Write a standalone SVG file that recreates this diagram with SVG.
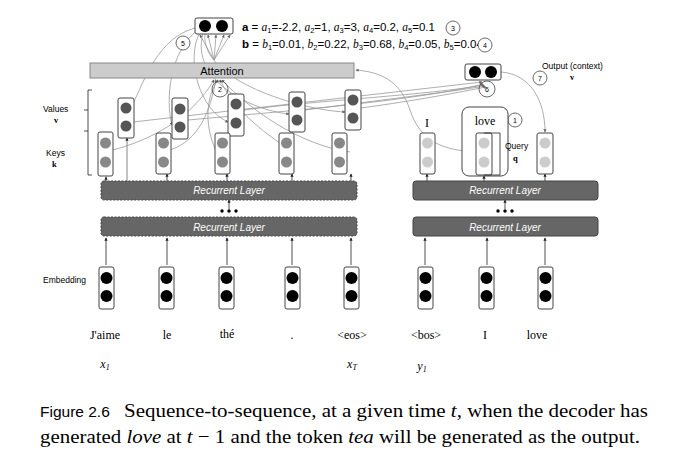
<svg xmlns="http://www.w3.org/2000/svg" width="691" height="453" viewBox="0 0 691 453">
<defs>
<marker id="ar" viewBox="0 0 6 6" refX="5" refY="3" markerWidth="4" markerHeight="4" orient="auto"><path d="M0,0L6,3L0,6z" fill="#666"/></marker>
<marker id="ak" viewBox="0 0 6 6" refX="5" refY="3" markerWidth="4" markerHeight="4" orient="auto"><path d="M0,0L6,3L0,6z" fill="#222"/></marker>
</defs>
<style>
.s{font-family:"Liberation Sans",Arial,sans-serif}
.r{font-family:"Liberation Serif","Times New Roman",serif}
.box{fill:#fff;stroke:#444;stroke-width:1}
.rl{fill:#666;stroke:#444}
.dash{stroke-dasharray:2,1.5}
.rlt{fill:#fff;font-style:italic;font-size:10px;text-anchor:middle}
.cir{fill:#fff;stroke:#444;stroke-width:0.8}
.cn{font-size:7px;text-anchor:middle}
.c{fill:none;stroke:#999;stroke-width:0.8}
.k{stroke:#222;stroke-width:0.8;fill:none}
.lbl{font-size:8.5px}
</style>
<rect width="691" height="453" fill="#fff"/>

<g id="connectors">
<g class="k" marker-end="url(#ak)">
<path d="M106,265V238"/><path d="M167,265V238"/><path d="M227,265V238"/><path d="M292,265V238"/><path d="M351,265V238"/>
<path d="M425,265V238"/><path d="M487,265V238"/><path d="M545,265V238"/>
<path d="M229,209V200"/><path d="M505,209V200"/>
<path d="M106,181V177"/><path d="M167,181V174"/><path d="M227,181V174"/><path d="M292,181V174"/><path d="M351,181V174"/>
<path d="M427,181V174"/><path d="M484,181V176"/><path d="M545,181V174"/>
<path d="M127,181V138" stroke="#666"/>
</g>
<g class="c" marker-end="url(#ar)">
<path d="M113,150C150,140 190,120 214,80"/>
<path d="M170,150C200,140 210,110 216,80"/>
<path d="M218,155C200,120 210,90 218,80"/>
<path d="M290,150C260,130 235,110 220,80"/>
<path d="M350,152C300,145 250,110 222,80"/>
<path d="M214,60L200,35"/><path d="M214,60L208,35"/><path d="M214,60L216,35"/><path d="M214,60L224,35"/><path d="M214,60L230,35"/>
<path d="M195,28C150,40 140,100 127,112"/>
<path d="M198,30C170,50 165,100 172,125"/>
<path d="M200,32C185,60 200,110 228,122"/>
<path d="M203,33C190,80 250,110 289,114"/>
<path d="M205,34C200,80 300,110 345,112"/>
<path d="M133,122L482,82"/>
<path d="M188,120C300,110 420,100 483,84"/>
<path d="M244,110C320,100 430,95 484,85"/>
<path d="M305,110C380,100 450,92 485,86"/>
<path d="M361,108C420,100 460,92 486,87"/>
<path d="M476,152C440,150 420,140 410,110C400,80 380,72 356,70"/>
<path d="M501,72C530,74 545,100 545,132"/>
</g>
</g>

<g id="attention">
<rect x="90" y="63" width="264" height="15" fill="#ccc" stroke="#888"/>
<text x="222" y="75" class="s" font-size="11" text-anchor="middle">Attention</text>
</g>
<g id="scores">
<rect x="195" y="18" width="38" height="16" rx="2" class="box" stroke-width="1.3"/>
<circle cx="205" cy="26" r="6"/><circle cx="222" cy="26" r="6"/>
<text x="242" y="31" class="s" font-size="11.5"><tspan font-weight="bold">a</tspan> = <tspan class="r" font-style="italic">a</tspan><tspan font-size="7.5" dy="2">1</tspan><tspan dy="-2">=-2.2, </tspan><tspan class="r" font-style="italic">a</tspan><tspan font-size="7.5" dy="2">2</tspan><tspan dy="-2">=1, </tspan><tspan class="r" font-style="italic">a</tspan><tspan font-size="7.5" dy="2">3</tspan><tspan dy="-2">=3, </tspan><tspan class="r" font-style="italic">a</tspan><tspan font-size="7.5" dy="2">4</tspan><tspan dy="-2">=0.2, </tspan><tspan class="r" font-style="italic">a</tspan><tspan font-size="7.5" dy="2">5</tspan><tspan dy="-2">=0.1</tspan></text>
<text x="242" y="48" class="s" font-size="11.5"><tspan font-weight="bold">b</tspan> = <tspan class="r" font-style="italic">b</tspan><tspan font-size="7.5" dy="2">1</tspan><tspan dy="-2">=0.01, </tspan><tspan class="r" font-style="italic">b</tspan><tspan font-size="7.5" dy="2">2</tspan><tspan dy="-2">=0.22, </tspan><tspan class="r" font-style="italic">b</tspan><tspan font-size="7.5" dy="2">3</tspan><tspan dy="-2">=0.68, </tspan><tspan class="r" font-style="italic">b</tspan><tspan font-size="7.5" dy="2">4</tspan><tspan dy="-2">=0.05, </tspan><tspan class="r" font-style="italic">b</tspan><tspan font-size="7.5" dy="2">5</tspan><tspan dy="-2">=0.04</tspan></text>
</g>
<g id="circles" class="s">
<circle cx="453" cy="28" r="7" class="cir"/><text x="453" y="30.5" class="cn">3</text>
<circle cx="485" cy="45" r="7" class="cir"/><text x="485" y="47.5" class="cn">4</text>
<circle cx="183" cy="43" r="7" class="cir"/><text x="183" y="45.5" class="cn">5</text>
<circle cx="220" cy="89" r="8" class="cir" style="fill:none"/><text x="220" y="91.5" class="cn">2</text>
<circle cx="487" cy="89" r="8" class="cir" style="fill:none"/><text x="487" y="91.5" class="cn">6</text>
<circle cx="540" cy="78" r="7" class="cir"/><text x="540" y="80.5" class="cn">7</text>
<circle cx="515" cy="120" r="7" class="cir"/><text x="515" y="122.5" class="cn">1</text>
</g>
<g id="output">
<rect x="465" y="64" width="36" height="16" rx="2" class="box" stroke-width="1.3"/>
<circle cx="475" cy="72" r="6"/><circle cx="491" cy="72" r="6"/>
<text x="542" y="69" class="s" font-size="8.5">Output (context)</text>
<text x="570" y="80" class="r" font-size="8.5" font-weight="bold">v</text>
</g>

<g id="values" fill="#555">
<rect x="118" y="98" width="16" height="40" rx="2" class="box"/><circle cx="126" cy="108" r="5.5"/><circle cx="126" cy="126" r="5.5"/>
<rect x="172" y="98" width="16" height="41" rx="2" class="box"/><circle cx="180" cy="109" r="5.5"/><circle cx="180" cy="127" r="5.5"/>
<rect x="228" y="94" width="16" height="42" rx="2" class="box"/><circle cx="236" cy="104" r="5.5"/><circle cx="236" cy="123" r="5.5"/>
<rect x="289" y="92" width="16" height="40" rx="2" class="box"/><circle cx="297" cy="102" r="5.5"/><circle cx="297" cy="120" r="5.5"/>
<rect x="345" y="90" width="16" height="40" rx="2" class="box"/><circle cx="353" cy="100" r="5.5"/><circle cx="353" cy="118" r="5.5"/>
</g>
<g id="keys" fill="#888">
<rect x="98" y="132" width="15" height="44" rx="2" class="box"/><circle cx="105.5" cy="143" r="5.5"/><circle cx="105.5" cy="162" r="5.5"/>
<rect x="156" y="133" width="15" height="41" rx="2" class="box"/><circle cx="163.5" cy="143" r="5.5"/><circle cx="163.5" cy="162" r="5.5"/>
<rect x="215" y="133" width="15" height="41" rx="2" class="box"/><circle cx="222.5" cy="143" r="5.5"/><circle cx="222.5" cy="162" r="5.5"/>
<rect x="279" y="133" width="15" height="41" rx="2" class="box"/><circle cx="286.5" cy="143" r="5.5"/><circle cx="286.5" cy="162" r="5.5"/>
<rect x="332" y="133" width="15" height="41" rx="2" class="box"/><circle cx="339.5" cy="143" r="5.5"/><circle cx="339.5" cy="162" r="5.5"/>
</g>
<g id="decoder-states" fill="#ccc">
<rect x="462" y="107" width="46" height="69" rx="7" class="box"/>
<rect x="420" y="133" width="15" height="41" rx="2" class="box"/><circle cx="427.5" cy="143" r="5.5"/><circle cx="427.5" cy="162" r="5.5"/>
<rect x="476" y="133" width="16" height="42" rx="2" class="box"/><circle cx="484" cy="143" r="5.5"/><circle cx="484" cy="162" r="5.5"/>
<rect x="537" y="133" width="16" height="41" rx="2" class="box"/><circle cx="545" cy="143" r="5.5"/><circle cx="545" cy="162" r="5.5"/>
<text x="427" y="127" class="r" font-size="12" fill="#000" text-anchor="middle">I</text>
<text x="485" y="125" class="r" font-size="12" fill="#000" text-anchor="middle">love</text>
<path d="M484,133H500V175H484" class="k"/>
<text x="505" y="149" class="s lbl" fill="#000">Query</text>
<text x="513" y="161" class="r" font-size="8.5" font-weight="bold" fill="#000">q</text>
</g>
<g id="brackets">
<path d="M92,90H88V131H84M88,131V175H92" class="k"/>
<path d="M84,110H88" class="k"/>
<text x="43" y="112" class="s lbl">Values</text>
<text x="54" y="123" class="r" font-size="8.5" font-weight="bold">v</text>
<text x="46" y="156" class="s lbl">Keys</text>
<text x="52" y="167" class="r" font-size="8.5" font-weight="bold">k</text>
<text x="43" y="283" class="s lbl">Embedding</text>
</g>

<g id="encoder-layers">
<rect x="101" y="181" width="256" height="19" rx="3" class="rl dash"/>
<text x="229" y="194" class="s rlt">Recurrent Layer</text>
<rect x="101" y="217" width="256" height="19" rx="3" class="rl dash"/>
<text x="229" y="231" class="s rlt">Recurrent Layer</text>
<circle cx="222" cy="211" r="1.7"/><circle cx="229" cy="211" r="1.7"/><circle cx="236" cy="211" r="1.7"/>
</g>
<g id="decoder-layers">
<rect x="413" y="181" width="185" height="19" rx="3" class="rl"/>
<text x="505" y="194" class="s rlt">Recurrent Layer</text>
<rect x="413" y="217" width="185" height="19" rx="3" class="rl"/>
<text x="505" y="231" class="s rlt">Recurrent Layer</text>
<circle cx="498" cy="211" r="1.7"/><circle cx="505" cy="211" r="1.7"/><circle cx="512" cy="211" r="1.7"/>
</g>

<g id="embeddings">
<g><rect x="99" y="267" width="15" height="42" rx="2" class="box"/><circle cx="106.5" cy="278" r="6"/><circle cx="106.5" cy="296" r="6"/></g>
<g><rect x="159" y="267" width="15" height="42" rx="2" class="box"/><circle cx="166.5" cy="278" r="6"/><circle cx="166.5" cy="296" r="6"/></g>
<g><rect x="219" y="267" width="15" height="42" rx="2" class="box"/><circle cx="226.5" cy="278" r="6"/><circle cx="226.5" cy="296" r="6"/></g>
<g><rect x="285" y="267" width="15" height="42" rx="2" class="box"/><circle cx="292.5" cy="278" r="6"/><circle cx="292.5" cy="296" r="6"/></g>
<g><rect x="344" y="267" width="15" height="42" rx="2" class="box"/><circle cx="351.5" cy="278" r="6"/><circle cx="351.5" cy="296" r="6"/></g>
<g><rect x="418" y="267" width="15" height="42" rx="2" class="box"/><circle cx="425.5" cy="278" r="6"/><circle cx="425.5" cy="296" r="6"/></g>
<g><rect x="479" y="267" width="15" height="42" rx="2" class="box"/><circle cx="486.5" cy="278" r="6"/><circle cx="486.5" cy="296" r="6"/></g>
<g><rect x="538" y="267" width="15" height="42" rx="2" class="box"/><circle cx="545.5" cy="278" r="6"/><circle cx="545.5" cy="296" r="6"/></g>
</g>
<g id="words" class="r" font-size="12" text-anchor="middle">
<text x="105" y="339">J'aime</text><text x="167" y="339">le</text><text x="227" y="338">thé</text><text x="292" y="339">.</text>
<text x="352" y="339">&lt;eos&gt;</text><text x="426" y="339">&lt;bos&gt;</text><text x="485" y="339">I</text><text x="537" y="339">love</text>
<text x="105" y="368" font-style="italic">x<tspan font-size="8" dy="2">1</tspan></text>
<text x="352" y="368" font-style="italic">x<tspan font-size="8" dy="2">T</tspan></text>
<text x="422" y="370" font-style="italic">y<tspan font-size="8" dy="2">1</tspan></text>
</g>
<g id="caption">
<text x="40" y="417" class="s" font-size="15.5">Figure 2.6</text>
<text x="124" y="417" class="r" font-size="19" textLength="524" lengthAdjust="spacingAndGlyphs">Sequence-to-sequence, at a given time <tspan font-style="italic">t</tspan>, when the decoder has</text>
<text x="40" y="443" class="r" font-size="19" textLength="600" lengthAdjust="spacingAndGlyphs">generated <tspan font-style="italic">love</tspan> at <tspan font-style="italic">t</tspan> − 1 and the token <tspan font-style="italic">tea</tspan> will be generated as the output.</text>
</g>
</svg>
